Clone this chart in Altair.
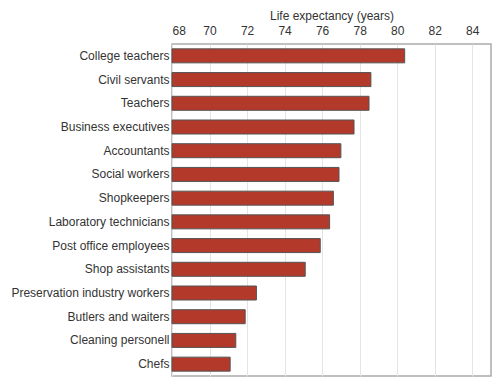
import altair as alt
import pandas as pd

occupations = [
    "College teachers", "Civil servants", "Teachers", "Business executives",
    "Accountants", "Social workers", "Shopkeepers", "Laboratory technicians",
    "Post office employees", "Shop assistants", "Preservation industry workers",
    "Butlers and waiters", "Cleaning personell", "Chefs",
]
life_expectancy = [80.4, 78.6, 78.5, 77.7, 77.0, 76.9, 76.6, 76.4, 75.9, 75.1, 72.5, 71.9, 71.4, 71.1]
x_ticks = [68, 70, 72, 74, 76, 78, 80, 82, 84]
x_start = 68

df = pd.DataFrame({"occupation": occupations, "value": life_expectancy, "base": x_start})

chart = alt.Chart(df).mark_bar(
    color="#b3392a", stroke="#555555", strokeWidth=1, size=14
).encode(
    x=alt.X("value:Q",
            scale=alt.Scale(domain=[68, 85], nice=False, zero=False),
            axis=alt.Axis(orient="top", values=x_ticks, title="Life expectancy (years)",
                          grid=True, gridColor="#e4e4e4", ticks=False, domain=False,
                          labelFontSize=12, titleFontSize=12, labelColor="#333333",
                          titleColor="#333333", titleFontWeight="normal",
                          labelPadding=7, titlePadding=2, labelFont="Liberation Sans",
                          titleFont="Liberation Sans")),
    x2=alt.X2("base:Q"),
    y=alt.Y("occupation:N", sort=occupations,
            scale=alt.Scale(paddingInner=0.42, paddingOuter=0.21),
            axis=alt.Axis(title=None, ticks=False, domain=False, labelFontSize=12,
                          labelColor="#333333", labelPadding=3, labelFont="Liberation Sans",
                          labelLimit=300)),
).properties(
    width=319, height=332,
    autosize=alt.AutoSizeParams(type="none"),
    padding={"left": 164, "top": 36, "right": 1, "bottom": 1},
).configure(
    background="white"
).configure_view(
    stroke="#aaaaaa", strokeWidth=1.5
)

chart.save("out.html", embed_options={"renderer": "svg", "actions": False})
